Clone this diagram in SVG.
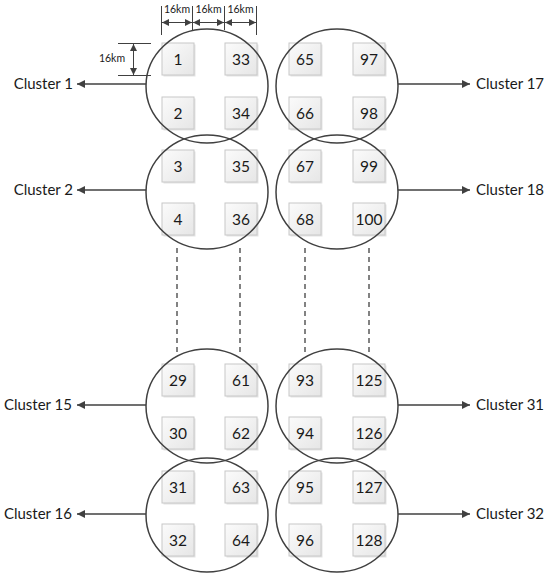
<svg xmlns="http://www.w3.org/2000/svg" width="550" height="580" viewBox="0 0 550 580">
<defs>
<linearGradient id="bg" x1="0" y1="0" x2="1" y2="1">
<stop offset="0" stop-color="#fbfbfb"/>
<stop offset="1" stop-color="#e6e6e6"/>
</linearGradient>
<marker id="ah" viewBox="0 0 10 10" refX="10" refY="5" markerWidth="9" markerHeight="8" markerUnits="userSpaceOnUse" orient="auto">
<path d="M0,0 L10,5 L0,10 Z" fill="#404040"/>
</marker>
<marker id="dh" viewBox="0 0 10 10" refX="10" refY="5" markerWidth="8" markerHeight="7" markerUnits="userSpaceOnUse" orient="auto-start-reverse">
<path d="M0,0 L10,5 L0,10 Z" fill="#404040"/>
</marker>
</defs>
<style>
.box rect.b{fill:url(#bg);stroke:#c8c8c8;stroke-width:1}
.box rect.s{fill:#e4e4e4}
.box text{font-family:Lato,"Liberation Sans",sans-serif;font-size:15.5px;fill:#1a1a1a;text-anchor:middle}
.cl ellipse{fill:none;stroke:#404040;stroke-width:1.5}
.lbl{font-family:Lato,"Liberation Sans",sans-serif;font-size:15px;fill:#1a1a1a}
.arr{stroke:#404040;stroke-width:1.5;fill:none;marker-end:url(#ah)}
.dash{stroke:#404040;stroke-width:1.3;stroke-dasharray:5 4;fill:none}
.dim{stroke:#404040;stroke-width:1;fill:none}
.dimarr{stroke:#404040;stroke-width:1;fill:none;marker-start:url(#dh);marker-end:url(#dh)}
.dt{font-family:Lato,"Liberation Sans",sans-serif;font-size:10.5px;fill:#1a1a1a;text-anchor:middle}
</style>
<rect width="550" height="580" fill="#ffffff"/>

<g id="boxes">
<g id="n1" class="box"><rect class="s" x="163.5" y="44.5" width="32" height="32"/><rect class="b" x="162" y="43" width="32" height="32"/><text x="178" y="64.5">1</text></g>
<g id="n2" class="box"><rect class="s" x="163.5" y="98.5" width="32" height="32"/><rect class="b" x="162" y="97" width="32" height="32"/><text x="178" y="118.5">2</text></g>
<g id="n3" class="box"><rect class="s" x="163.5" y="151.5" width="32" height="32"/><rect class="b" x="162" y="150" width="32" height="32"/><text x="178" y="171.5">3</text></g>
<g id="n4" class="box"><rect class="s" x="163.5" y="204.5" width="32" height="32"/><rect class="b" x="162" y="203" width="32" height="32"/><text x="178" y="224.5">4</text></g>
<g id="n29" class="box"><rect class="s" x="163.5" y="365.5" width="32" height="32"/><rect class="b" x="162" y="364" width="32" height="32"/><text x="178" y="385.5">29</text></g>
<g id="n30" class="box"><rect class="s" x="163.5" y="418.5" width="32" height="32"/><rect class="b" x="162" y="417" width="32" height="32"/><text x="178" y="438.5">30</text></g>
<g id="n31" class="box"><rect class="s" x="163.5" y="472.5" width="32" height="32"/><rect class="b" x="162" y="471" width="32" height="32"/><text x="178" y="492.5">31</text></g>
<g id="n32" class="box"><rect class="s" x="163.5" y="525.5" width="32" height="32"/><rect class="b" x="162" y="524" width="32" height="32"/><text x="178" y="545.5">32</text></g>

<g id="n33" class="box"><rect class="s" x="226.5" y="44.5" width="32" height="32"/><rect class="b" x="225" y="43" width="32" height="32"/><text x="241" y="64.5">33</text></g>
<g id="n34" class="box"><rect class="s" x="226.5" y="98.5" width="32" height="32"/><rect class="b" x="225" y="97" width="32" height="32"/><text x="241" y="118.5">34</text></g>
<g id="n35" class="box"><rect class="s" x="226.5" y="151.5" width="32" height="32"/><rect class="b" x="225" y="150" width="32" height="32"/><text x="241" y="171.5">35</text></g>
<g id="n36" class="box"><rect class="s" x="226.5" y="204.5" width="32" height="32"/><rect class="b" x="225" y="203" width="32" height="32"/><text x="241" y="224.5">36</text></g>
<g id="n61" class="box"><rect class="s" x="226.5" y="365.5" width="32" height="32"/><rect class="b" x="225" y="364" width="32" height="32"/><text x="241" y="385.5">61</text></g>
<g id="n62" class="box"><rect class="s" x="226.5" y="418.5" width="32" height="32"/><rect class="b" x="225" y="417" width="32" height="32"/><text x="241" y="438.5">62</text></g>
<g id="n63" class="box"><rect class="s" x="226.5" y="472.5" width="32" height="32"/><rect class="b" x="225" y="471" width="32" height="32"/><text x="241" y="492.5">63</text></g>
<g id="n64" class="box"><rect class="s" x="226.5" y="525.5" width="32" height="32"/><rect class="b" x="225" y="524" width="32" height="32"/><text x="241" y="545.5">64</text></g>

<g id="n65" class="box"><rect class="s" x="290.5" y="44.5" width="32" height="32"/><rect class="b" x="289" y="43" width="32" height="32"/><text x="305" y="64.5">65</text></g>
<g id="n66" class="box"><rect class="s" x="290.5" y="98.5" width="32" height="32"/><rect class="b" x="289" y="97" width="32" height="32"/><text x="305" y="118.5">66</text></g>
<g id="n67" class="box"><rect class="s" x="290.5" y="151.5" width="32" height="32"/><rect class="b" x="289" y="150" width="32" height="32"/><text x="305" y="171.5">67</text></g>
<g id="n68" class="box"><rect class="s" x="290.5" y="204.5" width="32" height="32"/><rect class="b" x="289" y="203" width="32" height="32"/><text x="305" y="224.5">68</text></g>
<g id="n93" class="box"><rect class="s" x="290.5" y="365.5" width="32" height="32"/><rect class="b" x="289" y="364" width="32" height="32"/><text x="305" y="385.5">93</text></g>
<g id="n94" class="box"><rect class="s" x="290.5" y="418.5" width="32" height="32"/><rect class="b" x="289" y="417" width="32" height="32"/><text x="305" y="438.5">94</text></g>
<g id="n95" class="box"><rect class="s" x="290.5" y="472.5" width="32" height="32"/><rect class="b" x="289" y="471" width="32" height="32"/><text x="305" y="492.5">95</text></g>
<g id="n96" class="box"><rect class="s" x="290.5" y="525.5" width="32" height="32"/><rect class="b" x="289" y="524" width="32" height="32"/><text x="305" y="545.5">96</text></g>

<g id="n97" class="box"><rect class="s" x="354.5" y="44.5" width="32" height="32"/><rect class="b" x="353" y="43" width="32" height="32"/><text x="369" y="64.5">97</text></g>
<g id="n98" class="box"><rect class="s" x="354.5" y="98.5" width="32" height="32"/><rect class="b" x="353" y="97" width="32" height="32"/><text x="369" y="118.5">98</text></g>
<g id="n99" class="box"><rect class="s" x="354.5" y="151.5" width="32" height="32"/><rect class="b" x="353" y="150" width="32" height="32"/><text x="369" y="171.5">99</text></g>
<g id="n100" class="box"><rect class="s" x="354.5" y="204.5" width="32" height="32"/><rect class="b" x="353" y="203" width="32" height="32"/><text x="369" y="224.5">100</text></g>
<g id="n125" class="box"><rect class="s" x="354.5" y="365.5" width="32" height="32"/><rect class="b" x="353" y="364" width="32" height="32"/><text x="369" y="385.5">125</text></g>
<g id="n126" class="box"><rect class="s" x="354.5" y="418.5" width="32" height="32"/><rect class="b" x="353" y="417" width="32" height="32"/><text x="369" y="438.5">126</text></g>
<g id="n127" class="box"><rect class="s" x="354.5" y="472.5" width="32" height="32"/><rect class="b" x="353" y="471" width="32" height="32"/><text x="369" y="492.5">127</text></g>
<g id="n128" class="box"><rect class="s" x="354.5" y="525.5" width="32" height="32"/><rect class="b" x="353" y="524" width="32" height="32"/><text x="369" y="545.5">128</text></g>
</g>

<g id="clusters">
<g id="c1" class="cl"><ellipse cx="207" cy="86" rx="61" ry="57"/></g>
<g id="c2" class="cl"><ellipse cx="207" cy="192" rx="61" ry="57"/></g>
<g id="c15" class="cl"><ellipse cx="207" cy="406" rx="61" ry="57"/></g>
<g id="c16" class="cl"><ellipse cx="207" cy="515" rx="61" ry="57"/></g>
<g id="c17" class="cl"><ellipse cx="337" cy="86" rx="61" ry="57"/></g>
<g id="c18" class="cl"><ellipse cx="337" cy="192" rx="61" ry="57"/></g>
<g id="c31" class="cl"><ellipse cx="337" cy="406" rx="61" ry="57"/></g>
<g id="c32" class="cl"><ellipse cx="337" cy="515" rx="61" ry="57"/></g>
</g>

<g id="connectors">
<line class="arr" x1="146" y1="84" x2="77" y2="84"/>
<line class="arr" x1="146" y1="190" x2="77" y2="190"/>
<line class="arr" x1="146" y1="405" x2="77" y2="405"/>
<line class="arr" x1="146" y1="514" x2="77" y2="514"/>
<line class="arr" x1="398" y1="84" x2="470" y2="84"/>
<line class="arr" x1="398" y1="190" x2="470" y2="190"/>
<line class="arr" x1="398" y1="405" x2="470" y2="405"/>
<line class="arr" x1="398" y1="514" x2="470" y2="514"/>
<line class="dash" x1="177" y1="248" x2="177" y2="352"/>
<line class="dash" x1="240" y1="248" x2="240" y2="352"/>
<line class="dash" x1="305" y1="248" x2="305" y2="352"/>
<line class="dash" x1="369" y1="248" x2="369" y2="352"/>
</g>

<g id="labels">
<text class="lbl" x="73" y="89" text-anchor="end">Cluster 1</text>
<text class="lbl" x="73" y="195" text-anchor="end">Cluster 2</text>
<text class="lbl" x="72" y="410" text-anchor="end">Cluster 15</text>
<text class="lbl" x="72" y="519" text-anchor="end">Cluster 16</text>
<text class="lbl" x="476" y="89">Cluster 17</text>
<text class="lbl" x="476" y="195">Cluster 18</text>
<text class="lbl" x="476" y="410">Cluster 31</text>
<text class="lbl" x="476" y="519">Cluster 32</text>
</g>

<g id="dimensions">
<line class="dim" x1="161.5" y1="6" x2="161.5" y2="35"/>
<line class="dim" x1="192.5" y1="6" x2="192.5" y2="30"/>
<line class="dim" x1="224.5" y1="6" x2="224.5" y2="30"/>
<line class="dim" x1="256.5" y1="6" x2="256.5" y2="35"/>
<line class="dimarr" x1="162" y1="22.5" x2="192" y2="22.5"/>
<line class="dimarr" x1="193" y1="22.5" x2="224" y2="22.5"/>
<line class="dimarr" x1="225" y1="22.5" x2="256" y2="22.5"/>
<text class="dt" x="177" y="13">16km</text>
<text class="dt" x="208.5" y="13">16km</text>
<text class="dt" x="240.5" y="13">16km</text>
<line class="dim" x1="118" y1="43.5" x2="151" y2="43.5"/>
<line class="dim" x1="118" y1="75.5" x2="151" y2="75.5"/>
<line class="dimarr" x1="133.5" y1="44" x2="133.5" y2="75"/>
<text class="dt" x="112" y="62">16km</text>
</g>
</svg>
